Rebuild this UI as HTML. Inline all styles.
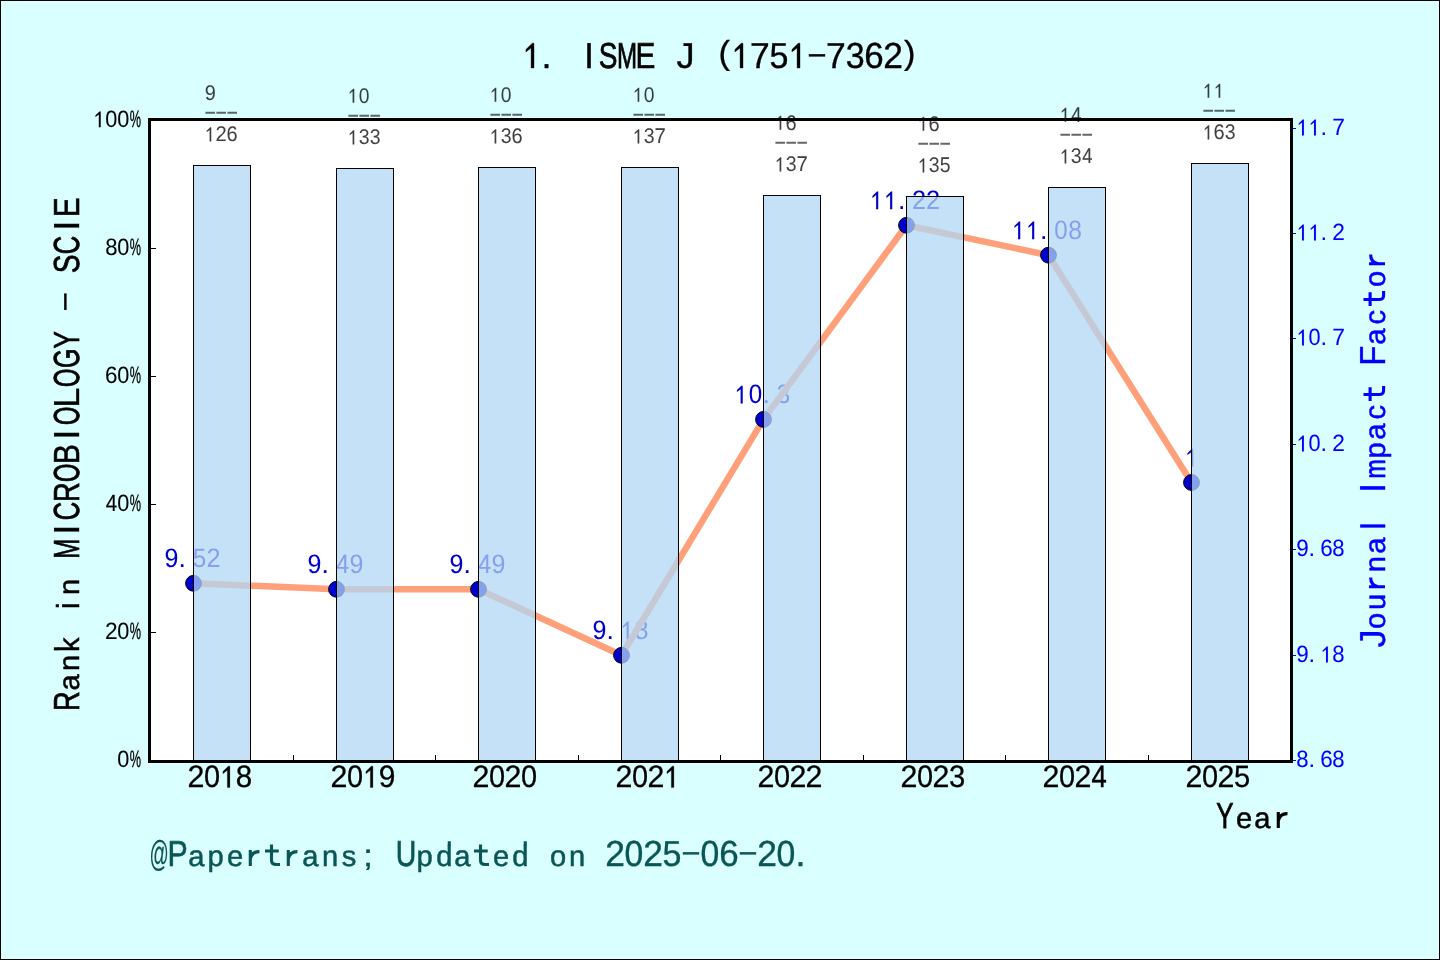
<!DOCTYPE html>
<html lang="en"><head><meta charset="utf-8"><title>1. ISME J (1751-7362)</title>
<style>
html,body{margin:0;padding:0;background:#d9ffff;}
body{width:1440px;height:960px;overflow:hidden;font-family:"Liberation Sans",sans-serif;}
svg{display:block;will-change:transform;}
svg text{font-family:"Liberation Sans",sans-serif;}
</style></head><body>
<svg width="1440" height="960" viewBox="0 0 1440 960" text-rendering="geometricPrecision" font-family="'Liberation Sans', sans-serif">
<rect x="0" y="0" width="1440" height="960" fill="#000"/>
<rect x="1" y="1" width="1438" height="958" fill="#d9ffff"/>
<rect x="149.5" y="119.5" width="1142" height="642" fill="#fff"/>
<g fill="#0000cd" stroke="#0000cd" stroke-width="0.06" font-size="26.61"><text transform="translate(164.57 567.3) scale(0.938 1.000)">9</text><text x="178.58" y="567.3">.</text><text transform="translate(192.76 567.3) scale(0.914 1.000)">5</text><text transform="translate(206.46 567.3) scale(0.951 1.000)">2</text></g>
<g fill="#0000cd" stroke="#0000cd" stroke-width="0.06" font-size="26.61"><text transform="translate(307.57 573.3) scale(0.938 1.000)">9</text><text x="321.58" y="573.3">.</text><text stroke-width="0.22" vector-effect="non-scaling-stroke" transform="translate(336.21 573.3) scale(0.860 1.000)">4</text><text transform="translate(349.57 573.3) scale(0.938 1.000)">9</text></g>
<g fill="#0000cd" stroke="#0000cd" stroke-width="0.06" font-size="26.61"><text transform="translate(449.57 573.3) scale(0.938 1.000)">9</text><text x="463.58" y="573.3">.</text><text stroke-width="0.22" vector-effect="non-scaling-stroke" transform="translate(478.21 573.3) scale(0.860 1.000)">4</text><text transform="translate(491.57 573.3) scale(0.938 1.000)">9</text></g>
<g fill="#0000cd" stroke="#0000cd" stroke-width="0.06" font-size="26.61"><text transform="translate(592.57 639.3) scale(0.938 1.000)">9</text><text x="606.58" y="639.3">.</text><path d="M628.72 621.6 L627.45 621.6 L622.94 626.02 L622.94 627.88 L626.64 625.08 L626.64 639.3 L628.72 639.3Z"/><text transform="translate(634.67 639.3) scale(0.923 1.000)">8</text></g>
<g fill="#0000cd" stroke="#0000cd" stroke-width="0.06" font-size="26.61"><path d="M742.72 385.7 L741.45 385.7 L736.94 390.12 L736.94 391.98 L740.64 389.18 L740.64 403.4 L742.72 403.4Z"/><text transform="translate(748.79 403.4) scale(0.906 1.000)">0</text><text x="762.58" y="403.4">.</text><text transform="translate(776.81 403.4) scale(0.914 1.000)">3</text></g>
<g fill="#0000cd" stroke="#0000cd" stroke-width="0.06" font-size="26.61"><path d="M878.22 191.6 L876.95 191.6 L872.44 196.02 L872.44 197.88 L876.14 195.08 L876.14 209.3 L878.22 209.3Z"/><path d="M892.22 191.6 L890.95 191.6 L886.44 196.02 L886.44 197.88 L890.14 195.08 L890.14 209.3 L892.22 209.3Z"/><text x="898.08" y="209.3">.</text><text transform="translate(911.96 209.3) scale(0.951 1.000)">2</text><text transform="translate(925.96 209.3) scale(0.951 1.000)">2</text></g>
<g fill="#0000cd" stroke="#0000cd" stroke-width="0.06" font-size="26.61"><path d="M1020.22 221.5 L1018.95 221.5 L1014.44 225.92 L1014.44 227.78 L1018.14 224.98 L1018.14 239.2 L1020.22 239.2Z"/><path d="M1034.22 221.5 L1032.94 221.5 L1028.44 225.92 L1028.44 227.78 L1032.14 224.98 L1032.14 239.2 L1034.22 239.2Z"/><text x="1040.08" y="239.2">.</text><text transform="translate(1054.29 239.2) scale(0.906 1.000)">0</text><text transform="translate(1068.17 239.2) scale(0.923 1.000)">8</text></g>
<g fill="#0000cd" stroke="#0000cd" stroke-width="0.06" font-size="26.61"><path d="M1193.22 448.8 L1191.94 448.8 L1187.44 453.22 L1187.44 455.08 L1191.14 452.28 L1191.14 466.5 L1193.22 466.5Z"/></g>
<polyline points="193.5,583.3 336.5,589.3 478.5,589.3 621.5,655.3 763.5,419.4 906.5,225.3 1048.5,255.2 1191.5,482.5" fill="none" stroke="#ffa07a" stroke-width="6.5" stroke-linejoin="round"/>
<circle cx="193.5" cy="583.3" r="7.9" fill="#0000cd" stroke="#000" stroke-width="1"/>
<circle cx="336.5" cy="589.3" r="7.9" fill="#0000cd" stroke="#000" stroke-width="1"/>
<circle cx="478.5" cy="589.3" r="7.9" fill="#0000cd" stroke="#000" stroke-width="1"/>
<circle cx="621.5" cy="655.3" r="7.9" fill="#0000cd" stroke="#000" stroke-width="1"/>
<circle cx="763.5" cy="419.4" r="7.9" fill="#0000cd" stroke="#000" stroke-width="1"/>
<circle cx="906.5" cy="225.3" r="7.9" fill="#0000cd" stroke="#000" stroke-width="1"/>
<circle cx="1048.5" cy="255.2" r="7.9" fill="#0000cd" stroke="#000" stroke-width="1"/>
<circle cx="1191.5" cy="482.5" r="7.9" fill="#0000cd" stroke="#000" stroke-width="1"/>
<rect x="193.5" y="165.5" width="57" height="595" fill="rgb(178,215,244)" fill-opacity="0.75" stroke="#000" stroke-width="1"/>
<rect x="336.5" y="168.5" width="57" height="592" fill="rgb(178,215,244)" fill-opacity="0.75" stroke="#000" stroke-width="1"/>
<rect x="478.5" y="167.5" width="57" height="593" fill="rgb(178,215,244)" fill-opacity="0.75" stroke="#000" stroke-width="1"/>
<rect x="621.5" y="167.5" width="57" height="593" fill="rgb(178,215,244)" fill-opacity="0.75" stroke="#000" stroke-width="1"/>
<rect x="763.5" y="195.5" width="57" height="565" fill="rgb(178,215,244)" fill-opacity="0.75" stroke="#000" stroke-width="1"/>
<rect x="906.5" y="196.5" width="57" height="564" fill="rgb(178,215,244)" fill-opacity="0.75" stroke="#000" stroke-width="1"/>
<rect x="1048.5" y="187.5" width="57" height="573" fill="rgb(178,215,244)" fill-opacity="0.75" stroke="#000" stroke-width="1"/>
<rect x="1191.5" y="163.5" width="57" height="597" fill="rgb(178,215,244)" fill-opacity="0.75" stroke="#000" stroke-width="1"/>
<g fill="#000" stroke="#000" stroke-width="0.04" font-size="21.29" opacity="0.75"><text transform="translate(204.65 99.8) scale(0.938 1.000)">9</text></g>
<g fill="#000" stroke="#000" stroke-width="0.04" font-size="21.29" opacity="0.75"><path d="M211.28 127.25 L210.25 127.25 L206.66 130.78 L206.66 132.27 L209.61 130.02 L209.61 141.4 L211.28 141.4Z"/><text transform="translate(215.57 141.4) scale(0.951 1.000)">2</text><text transform="translate(226.57 141.4) scale(0.939 1.000)">6</text></g>
<path d="M205.4 112.8h9.6M216.4 112.8h9.6M227.4 112.8h9.6" stroke="#000" stroke-opacity="0.6" stroke-width="1.9" fill="none"/>
<g fill="#000" stroke="#000" stroke-width="0.04" font-size="21.29" opacity="0.75"><path d="M354.28 88.65 L353.25 88.65 L349.66 92.18 L349.66 93.67 L352.61 91.42 L352.61 102.8 L354.28 102.8Z"/><text transform="translate(358.84 102.8) scale(0.906 1.000)">0</text></g>
<g fill="#000" stroke="#000" stroke-width="0.04" font-size="21.29" opacity="0.75"><path d="M354.28 130.25 L353.25 130.25 L349.66 133.78 L349.66 135.27 L352.61 133.02 L352.61 144.4 L354.28 144.4Z"/><text transform="translate(358.85 144.4) scale(0.914 1.000)">3</text><text transform="translate(369.85 144.4) scale(0.914 1.000)">3</text></g>
<path d="M348.4 115.8h9.6M359.4 115.8h9.6M370.4 115.8h9.6" stroke="#000" stroke-opacity="0.6" stroke-width="1.9" fill="none"/>
<g fill="#000" stroke="#000" stroke-width="0.04" font-size="21.29" opacity="0.75"><path d="M496.28 87.65 L495.25 87.65 L491.66 91.18 L491.66 92.67 L494.61 90.42 L494.61 101.8 L496.28 101.8Z"/><text transform="translate(500.84 101.8) scale(0.906 1.000)">0</text></g>
<g fill="#000" stroke="#000" stroke-width="0.04" font-size="21.29" opacity="0.75"><path d="M496.28 129.25 L495.25 129.25 L491.66 132.78 L491.66 134.27 L494.61 132.02 L494.61 143.4 L496.28 143.4Z"/><text transform="translate(500.85 143.4) scale(0.914 1.000)">3</text><text transform="translate(511.57 143.4) scale(0.939 1.000)">6</text></g>
<path d="M490.4 114.8h9.6M501.4 114.8h9.6M512.4 114.8h9.6" stroke="#000" stroke-opacity="0.6" stroke-width="1.9" fill="none"/>
<g fill="#000" stroke="#000" stroke-width="0.04" font-size="21.29" opacity="0.75"><path d="M639.28 87.65 L638.26 87.65 L634.66 91.18 L634.66 92.67 L637.61 90.42 L637.61 101.8 L639.28 101.8Z"/><text transform="translate(643.84 101.8) scale(0.906 1.000)">0</text></g>
<g fill="#000" stroke="#000" stroke-width="0.04" font-size="21.29" opacity="0.75"><path d="M639.28 129.25 L638.26 129.25 L634.66 132.78 L634.66 134.27 L637.61 132.02 L637.61 143.4 L639.28 143.4Z"/><text transform="translate(643.85 143.4) scale(0.914 1.000)">3</text><text transform="translate(654.55 143.4) scale(0.953 1.000)">7</text></g>
<path d="M633.4 114.8h9.6M644.4 114.8h9.6M655.4 114.8h9.6" stroke="#000" stroke-opacity="0.6" stroke-width="1.9" fill="none"/>
<g fill="#000" stroke="#000" stroke-width="0.04" font-size="21.29" opacity="0.75"><path d="M781.28 115.65 L780.26 115.65 L776.66 119.18 L776.66 120.67 L779.61 118.42 L779.61 129.8 L781.28 129.8Z"/><text transform="translate(785.57 129.8) scale(0.939 1.000)">6</text></g>
<g fill="#000" stroke="#000" stroke-width="0.04" font-size="21.29" opacity="0.75"><path d="M781.28 157.25 L780.26 157.25 L776.66 160.78 L776.66 162.27 L779.61 160.02 L779.61 171.4 L781.28 171.4Z"/><text transform="translate(785.85 171.4) scale(0.914 1.000)">3</text><text transform="translate(796.55 171.4) scale(0.953 1.000)">7</text></g>
<path d="M775.4 142.8h9.6M786.4 142.8h9.6M797.4 142.8h9.6" stroke="#000" stroke-opacity="0.6" stroke-width="1.9" fill="none"/>
<g fill="#000" stroke="#000" stroke-width="0.04" font-size="21.29" opacity="0.75"><path d="M924.28 116.65 L923.26 116.65 L919.66 120.18 L919.66 121.67 L922.61 119.42 L922.61 130.8 L924.28 130.8Z"/><text transform="translate(928.57 130.8) scale(0.939 1.000)">6</text></g>
<g fill="#000" stroke="#000" stroke-width="0.04" font-size="21.29" opacity="0.75"><path d="M924.28 158.25 L923.26 158.25 L919.66 161.78 L919.66 163.27 L922.61 161.02 L922.61 172.4 L924.28 172.4Z"/><text transform="translate(928.85 172.4) scale(0.914 1.000)">3</text><text transform="translate(939.81 172.4) scale(0.914 1.000)">5</text></g>
<path d="M918.4 143.8h9.6M929.4 143.8h9.6M940.4 143.8h9.6" stroke="#000" stroke-opacity="0.6" stroke-width="1.9" fill="none"/>
<g fill="#000" stroke="#000" stroke-width="0.04" font-size="21.29" opacity="0.75"><path d="M1066.28 107.65 L1065.25 107.65 L1061.66 111.18 L1061.66 112.67 L1064.61 110.42 L1064.61 121.8 L1066.28 121.8Z"/><text stroke-width="0.18" vector-effect="non-scaling-stroke" transform="translate(1071.17 121.8) scale(0.860 1.000)">4</text></g>
<g fill="#000" stroke="#000" stroke-width="0.04" font-size="21.29" opacity="0.75"><path d="M1066.28 149.25 L1065.25 149.25 L1061.66 152.78 L1061.66 154.27 L1064.61 152.02 L1064.61 163.4 L1066.28 163.4Z"/><text transform="translate(1070.85 163.4) scale(0.914 1.000)">3</text><text stroke-width="0.18" vector-effect="non-scaling-stroke" transform="translate(1082.17 163.4) scale(0.860 1.000)">4</text></g>
<path d="M1060.4 134.8h9.6M1071.4 134.8h9.6M1082.4 134.8h9.6" stroke="#000" stroke-opacity="0.6" stroke-width="1.9" fill="none"/>
<g fill="#000" stroke="#000" stroke-width="0.04" font-size="21.29" opacity="0.75"><path d="M1209.28 83.65 L1208.25 83.65 L1204.66 87.18 L1204.66 88.67 L1207.61 86.42 L1207.61 97.8 L1209.28 97.8Z"/><path d="M1220.28 83.65 L1219.25 83.65 L1215.66 87.18 L1215.66 88.67 L1218.61 86.42 L1218.61 97.8 L1220.28 97.8Z"/></g>
<g fill="#000" stroke="#000" stroke-width="0.04" font-size="21.29" opacity="0.75"><path d="M1209.28 125.25 L1208.25 125.25 L1204.66 128.78 L1204.66 130.27 L1207.61 128.02 L1207.61 139.4 L1209.28 139.4Z"/><text transform="translate(1213.57 139.4) scale(0.939 1.000)">6</text><text transform="translate(1224.85 139.4) scale(0.914 1.000)">3</text></g>
<path d="M1203.4 110.8h9.6M1214.4 110.8h9.6M1225.4 110.8h9.6" stroke="#000" stroke-opacity="0.6" stroke-width="1.9" fill="none"/>
<path d="M150.5 632.5H156M150.5 504.5H156M150.5 376.5H156M150.5 248.5H156M293.5 760.5V755M435.5 760.5V755M578.5 760.5V755M720.5 760.5V755M863.5 760.5V755M1005.5 760.5V755M1148.5 760.5V755" stroke="#000" stroke-width="1" fill="none"/>
<path d="M1293 760.5H1296M1293 655.5H1296M1293 549.5H1296M1293 444.5H1296M1293 338.5H1296M1293 233.5H1296M1293 128.5H1296" stroke="#00f" stroke-width="1" fill="none"/>
<rect x="149.5" y="119.5" width="1142" height="642" fill="none" stroke="#000" stroke-width="3"/>
<g fill="#000" stroke="#000" stroke-width="0.05" font-size="23.62"><text transform="translate(117.26 767.3) scale(0.919 1.000)">0</text><text stroke-width="0.35" vector-effect="non-scaling-stroke" transform="translate(129.66 767.3) scale(0.537 1.000)">%</text></g>
<g fill="#000" stroke="#000" stroke-width="0.05" font-size="23.62"><text transform="translate(104.97 639.3) scale(0.964 1.000)">2</text><text transform="translate(117.26 639.3) scale(0.919 1.000)">0</text><text stroke-width="0.35" vector-effect="non-scaling-stroke" transform="translate(129.66 639.3) scale(0.537 1.000)">%</text></g>
<g fill="#000" stroke="#000" stroke-width="0.05" font-size="23.62"><text stroke-width="0.19" vector-effect="non-scaling-stroke" transform="translate(105.64 511.3) scale(0.871 1.000)">4</text><text transform="translate(117.26 511.3) scale(0.919 1.000)">0</text><text stroke-width="0.35" vector-effect="non-scaling-stroke" transform="translate(129.66 511.3) scale(0.537 1.000)">%</text></g>
<g fill="#000" stroke="#000" stroke-width="0.05" font-size="23.62"><text transform="translate(104.97 383.3) scale(0.952 1.000)">6</text><text transform="translate(117.26 383.3) scale(0.919 1.000)">0</text><text stroke-width="0.35" vector-effect="non-scaling-stroke" transform="translate(129.66 383.3) scale(0.537 1.000)">%</text></g>
<g fill="#000" stroke="#000" stroke-width="0.05" font-size="23.62"><text transform="translate(105.15 255.3) scale(0.936 1.000)">8</text><text transform="translate(117.26 255.3) scale(0.919 1.000)">0</text><text stroke-width="0.35" vector-effect="non-scaling-stroke" transform="translate(129.66 255.3) scale(0.537 1.000)">%</text></g>
<g fill="#000" stroke="#000" stroke-width="0.05" font-size="23.62"><path d="M100.7 111.38 L99.55 111.38 L95.5 115.35 L95.5 117.03 L98.83 114.5 L98.83 127.3 L100.7 127.3Z"/><text transform="translate(105.26 127.3) scale(0.919 1.000)">0</text><text transform="translate(117.26 127.3) scale(0.919 1.000)">0</text><text stroke-width="0.35" vector-effect="non-scaling-stroke" transform="translate(129.66 127.3) scale(0.537 1.000)">%</text></g>
<g fill="#00f" stroke="#00f" stroke-width="0.05" font-size="23.62"><text transform="translate(1296.35 767.4) scale(0.936 1.000)">8</text><text x="1308.46" y="767.4">.</text><text transform="translate(1320.17 767.4) scale(0.952 1.000)">6</text><text transform="translate(1332.35 767.4) scale(0.936 1.000)">8</text></g>
<g fill="#00f" stroke="#00f" stroke-width="0.05" font-size="23.62"><text transform="translate(1296.26 662.4) scale(0.951 1.000)">9</text><text x="1308.46" y="662.4">.</text><path d="M1327.9 646.48 L1326.75 646.48 L1322.7 650.45 L1322.7 652.12 L1326.03 649.6 L1326.03 662.4 L1327.9 662.4Z"/><text transform="translate(1332.35 662.4) scale(0.936 1.000)">8</text></g>
<g fill="#00f" stroke="#00f" stroke-width="0.05" font-size="23.62"><text transform="translate(1296.26 556.4) scale(0.951 1.000)">9</text><text x="1308.46" y="556.4">.</text><text transform="translate(1320.17 556.4) scale(0.952 1.000)">6</text><text transform="translate(1332.35 556.4) scale(0.936 1.000)">8</text></g>
<g fill="#00f" stroke="#00f" stroke-width="0.05" font-size="23.62"><path d="M1303.9 435.47 L1302.75 435.47 L1298.7 439.45 L1298.7 441.12 L1302.03 438.6 L1302.03 451.4 L1303.9 451.4Z"/><text transform="translate(1308.46 451.4) scale(0.919 1.000)">0</text><text x="1320.46" y="451.4">.</text><text transform="translate(1332.17 451.4) scale(0.964 1.000)">2</text></g>
<g fill="#00f" stroke="#00f" stroke-width="0.05" font-size="23.62"><path d="M1303.9 329.47 L1302.75 329.47 L1298.7 333.45 L1298.7 335.12 L1302.03 332.6 L1302.03 345.4 L1303.9 345.4Z"/><text transform="translate(1308.46 345.4) scale(0.919 1.000)">0</text><text x="1320.46" y="345.4">.</text><text transform="translate(1332.14 345.4) scale(0.966 1.000)">7</text></g>
<g fill="#00f" stroke="#00f" stroke-width="0.05" font-size="23.62"><path d="M1303.9 224.47 L1302.75 224.47 L1298.7 228.45 L1298.7 230.12 L1302.03 227.6 L1302.03 240.4 L1303.9 240.4Z"/><path d="M1315.9 224.47 L1314.75 224.47 L1310.7 228.45 L1310.7 230.12 L1314.03 227.6 L1314.03 240.4 L1315.9 240.4Z"/><text x="1320.46" y="240.4">.</text><text transform="translate(1332.17 240.4) scale(0.964 1.000)">2</text></g>
<g fill="#00f" stroke="#00f" stroke-width="0.05" font-size="23.62"><path d="M1303.9 119.48 L1302.75 119.48 L1298.7 123.45 L1298.7 125.12 L1302.03 122.6 L1302.03 135.4 L1303.9 135.4Z"/><path d="M1315.9 119.48 L1314.75 119.48 L1310.7 123.45 L1310.7 125.12 L1314.03 122.6 L1314.03 135.4 L1315.9 135.4Z"/><text x="1320.46" y="135.4">.</text><text transform="translate(1332.14 135.4) scale(0.966 1.000)">7</text></g>
<g fill="#000" stroke="#000" stroke-width="0.3" font-size="31"><text transform="translate(187.56 787.4) scale(0.980 1.000)">2</text><text transform="translate(203.95 787.4) scale(0.933 1.000)">0</text><path d="M229.87 766.17 L228.33 766.17 L222.93 771.47 L222.93 773.7 L227.37 770.34 L227.37 787.4 L229.87 787.4Z"/><text transform="translate(235.8 787.4) scale(0.951 1.000)">8</text></g>
<g fill="#000" stroke="#000" stroke-width="0.3" font-size="31"><text transform="translate(330.56 787.4) scale(0.980 1.000)">2</text><text transform="translate(346.95 787.4) scale(0.933 1.000)">0</text><path d="M372.87 766.17 L371.33 766.17 L365.93 771.47 L365.93 773.7 L370.37 770.34 L370.37 787.4 L372.87 787.4Z"/><text transform="translate(378.68 787.4) scale(0.966 1.000)">9</text></g>
<g fill="#000" stroke="#000" stroke-width="0.3" font-size="31"><text transform="translate(472.56 787.4) scale(0.980 1.000)">2</text><text transform="translate(488.95 787.4) scale(0.933 1.000)">0</text><text transform="translate(504.56 787.4) scale(0.980 1.000)">2</text><text transform="translate(520.95 787.4) scale(0.933 1.000)">0</text></g>
<g fill="#000" stroke="#000" stroke-width="0.3" font-size="31"><text transform="translate(615.56 787.4) scale(0.980 1.000)">2</text><text transform="translate(631.95 787.4) scale(0.933 1.000)">0</text><text transform="translate(647.56 787.4) scale(0.980 1.000)">2</text><path d="M673.87 766.17 L672.33 766.17 L666.93 771.47 L666.93 773.7 L671.37 770.34 L671.37 787.4 L673.87 787.4Z"/></g>
<g fill="#000" stroke="#000" stroke-width="0.3" font-size="31"><text transform="translate(757.56 787.4) scale(0.980 1.000)">2</text><text transform="translate(773.95 787.4) scale(0.933 1.000)">0</text><text transform="translate(789.56 787.4) scale(0.980 1.000)">2</text><text transform="translate(805.56 787.4) scale(0.980 1.000)">2</text></g>
<g fill="#000" stroke="#000" stroke-width="0.3" font-size="31"><text transform="translate(900.56 787.4) scale(0.980 1.000)">2</text><text transform="translate(916.95 787.4) scale(0.933 1.000)">0</text><text transform="translate(932.56 787.4) scale(0.980 1.000)">2</text><text transform="translate(948.97 787.4) scale(0.941 1.000)">3</text></g>
<g fill="#000" stroke="#000" stroke-width="0.3" font-size="31"><text transform="translate(1042.56 787.4) scale(0.980 1.000)">2</text><text transform="translate(1058.95 787.4) scale(0.933 1.000)">0</text><text transform="translate(1074.56 787.4) scale(0.980 1.000)">2</text><text stroke-width="0.46" vector-effect="non-scaling-stroke" transform="translate(1091.45 787.4) scale(0.886 1.000)">4</text></g>
<g fill="#000" stroke="#000" stroke-width="0.3" font-size="31"><text transform="translate(1185.56 787.4) scale(0.980 1.000)">2</text><text transform="translate(1201.95 787.4) scale(0.933 1.000)">0</text><text transform="translate(1217.56 787.4) scale(0.980 1.000)">2</text><text transform="translate(1233.92 787.4) scale(0.941 1.000)">5</text></g>
<g fill="#000" stroke="#000" stroke-width="0.35" font-size="36.17"><path d="M534.01 43.23 L532.22 43.23 L525.92 49.41 L525.92 52.02 L531.09 48.09 L531.09 68 L534.01 68Z"/><text x="541.61" y="68">.</text><text x="583.98" y="68">I</text><text stroke-width="0.72" vector-effect="non-scaling-stroke" transform="translate(598.66 68) scale(0.775 1.000)">S</text><text stroke-width="0.78" vector-effect="non-scaling-stroke" transform="translate(616.95 68) scale(0.667 1.000)">M</text><text stroke-width="0.64" vector-effect="non-scaling-stroke" transform="translate(635.49 68) scale(0.823 1.000)">E</text><text x="676.59" y="68">J</text><text transform="translate(718.61 64.31) scale(0.953 0.920)">(</text><path d="M743.01 43.23 L741.22 43.23 L734.92 49.41 L734.92 52.02 L740.09 48.09 L740.09 68 L743.01 68Z"/><text transform="translate(750.11 68) scale(0.982 1.000)">7</text><text transform="translate(769.57 68) scale(0.941 1.000)">5</text><path d="M800.01 43.23 L798.22 43.23 L791.92 49.41 L791.92 52.02 L797.09 48.09 L797.09 68 L800.01 68Z"/><text transform="translate(806.26 62.86) scale(1.784 0.800)">-</text><text transform="translate(826.11 68) scale(0.982 1.000)">7</text><text transform="translate(845.63 68) scale(0.941 1.000)">3</text><text transform="translate(864.15 68) scale(0.967 1.000)">6</text><text transform="translate(883.15 68) scale(0.980 1.000)">2</text><text transform="translate(903.91 64.31) scale(0.953 0.920)">)</text></g>
<g fill="#000" stroke="#000" stroke-width="0.35" font-size="36.17"><text stroke-width="0.78" vector-effect="non-scaling-stroke" transform="translate(1216.36 827.9) scale(0.716 1.000)">Y</text><text font-size="29.11" stroke-width="0.49" x="1235.93" y="827.9">e</text><text font-size="29.11" stroke-width="0.49" x="1254.29" y="827.9">a</text><path d="M1278.29 827.9 L1278.29 811.88 M1278.29 821.29 C1279.31 815.46 1282.22 813.43 1287.47 813.59" fill="none" stroke-width="3.11"/></g>
<g fill="#0a5555" stroke="#0a5555" stroke-width="0.35" font-size="36.17"><text stroke-width="0.16" vector-effect="non-scaling-stroke" transform="translate(149.44 865.9) scale(0.525 1.000)">@</text><text stroke-width="0.62" vector-effect="non-scaling-stroke" transform="translate(167.44 865.9) scale(0.838 1.000)">P</text><text font-size="29.11" stroke-width="0.49" x="188.29" y="865.9">a</text><text font-size="29.11" stroke-width="0.49" x="207.58" y="865.9">p</text><text font-size="29.11" stroke-width="0.49" x="226.93" y="865.9">e</text><path d="M250.29 865.9 L250.29 849.88 M250.29 859.29 C251.31 853.46 254.22 851.43 259.47 851.59" fill="none" stroke-width="3.11"/><path d="M271.51 844.39 L271.51 860.46 C271.51 863.96 273.61 864.5 276.33 864.5 L279.99 864.5 M265.02 851.01 L278.74 851.01" fill="none" stroke-width="3.11"/><path d="M288.29 865.9 L288.29 849.88 M288.29 859.29 C289.31 853.46 292.22 851.43 297.47 851.59" fill="none" stroke-width="3.11"/><text font-size="29.11" stroke-width="0.49" x="302.29" y="865.9">a</text><text font-size="29.11" stroke-width="0.49" x="321.88" y="865.9">n</text><text font-size="29.11" stroke-width="0.49" x="341.84" y="865.9">s</text><text transform="translate(362.98 865.9) scale(1.000 0.850)">;</text><text stroke-width="0.7" vector-effect="non-scaling-stroke" transform="translate(395.74 865.9) scale(0.786 1.000)">U</text><text font-size="29.11" stroke-width="0.49" x="416.58" y="865.9">p</text><text font-size="29.11" stroke-width="0.49" x="436.23" y="865.9">d</text><rect x="447.74" y="841.24" width="3.05" height="4.57" stroke="none"/><text font-size="29.11" stroke-width="0.49" x="454.29" y="865.9">a</text><path d="M480.51 844.39 L480.51 860.46 C480.51 863.96 482.61 864.5 485.33 864.5 L488.99 864.5 M474.02 851.01 L487.74 851.01" fill="none" stroke-width="3.11"/><text font-size="29.11" stroke-width="0.49" x="492.93" y="865.9">e</text><text font-size="29.11" stroke-width="0.49" x="512.23" y="865.9">d</text><rect x="523.74" y="841.24" width="3.05" height="4.57" stroke="none"/><text font-size="29.11" stroke-width="0.49" x="549.9" y="865.9">o</text><text font-size="29.11" stroke-width="0.49" x="568.88" y="865.9">n</text><text transform="translate(605.15 865.9) scale(0.980 1.000)">2</text><text transform="translate(624.61 865.9) scale(0.933 1.000)">0</text><text transform="translate(643.15 865.9) scale(0.980 1.000)">2</text><text transform="translate(662.57 865.9) scale(0.941 1.000)">5</text><text transform="translate(680.26 860.76) scale(1.784 0.800)">-</text><text transform="translate(700.61 865.9) scale(0.933 1.000)">0</text><text transform="translate(719.15 865.9) scale(0.967 1.000)">6</text><text transform="translate(737.26 860.76) scale(1.784 0.800)">-</text><text transform="translate(757.15 865.9) scale(0.980 1.000)">2</text><text transform="translate(776.61 865.9) scale(0.933 1.000)">0</text><text x="795.61" y="865.9">.</text></g>
<g transform="translate(78.5 710.3) rotate(-90)"><g fill="#000" stroke="#000" stroke-width="0.35" font-size="36.17"><text stroke-width="0.76" vector-effect="non-scaling-stroke" transform="translate(-0.8 0) scale(0.752 1.000)">R</text><text font-size="29.11" stroke-width="0.49" x="19.79" y="0">a</text><text font-size="29.11" stroke-width="0.49" x="39.38" y="0">n</text><text font-size="29.11" stroke-width="0.49" x="58.22" y="0">k</text><rect x="59.94" y="-24.66" width="3.05" height="4.57" stroke="none"/><text font-size="29.11" stroke-width="0.49" transform="translate(101.27 0) scale(1.000 1.090)">i</text><text font-size="29.11" stroke-width="0.49" x="115.38" y="0">n</text><text stroke-width="0.78" vector-effect="non-scaling-stroke" transform="translate(151.45 0) scale(0.667 1.000)">M</text><text x="175.48" y="0">I</text><text stroke-width="0.78" vector-effect="non-scaling-stroke" transform="translate(190.14 0) scale(0.705 1.000)">C</text><text stroke-width="0.76" vector-effect="non-scaling-stroke" transform="translate(208.2 0) scale(0.752 1.000)">R</text><text stroke-width="0.78" vector-effect="non-scaling-stroke" transform="translate(228.31 0) scale(0.654 1.000)">O</text><text stroke-width="0.62" vector-effect="non-scaling-stroke" transform="translate(245.94 0) scale(0.838 1.000)">B</text><text x="270.48" y="0">I</text><text stroke-width="0.78" vector-effect="non-scaling-stroke" transform="translate(285.31 0) scale(0.654 1.000)">O</text><text x="302.56" y="0">L</text><text stroke-width="0.78" vector-effect="non-scaling-stroke" transform="translate(323.31 0) scale(0.654 1.000)">O</text><text stroke-width="0.78" vector-effect="non-scaling-stroke" transform="translate(342.19 0) scale(0.684 1.000)">G</text><text stroke-width="0.78" vector-effect="non-scaling-stroke" transform="translate(361.86 0) scale(0.716 1.000)">Y</text><text transform="translate(397.76 -5.14) scale(1.784 0.800)">-</text><text stroke-width="0.72" vector-effect="non-scaling-stroke" transform="translate(437.16 0) scale(0.775 1.000)">S</text><text stroke-width="0.78" vector-effect="non-scaling-stroke" transform="translate(456.14 0) scale(0.705 1.000)">C</text><text x="479.48" y="0">I</text><text stroke-width="0.64" vector-effect="non-scaling-stroke" transform="translate(492.99 0) scale(0.823 1.000)">E</text></g></g>
<g transform="translate(1385 649.5) rotate(-90)"><g fill="#00f" stroke="#00f" stroke-width="0.35" font-size="36.17"><text x="2.09" y="0">J</text><text font-size="29.11" stroke-width="0.49" x="20.4" y="0">o</text><text font-size="29.11" stroke-width="0.49" x="39.43" y="0">u</text><path d="M62.79 0 L62.79 -16.02 M62.79 -6.61 C63.81 -12.44 66.72 -14.47 71.97 -14.31" fill="none" stroke-width="3.11"/><text font-size="29.11" stroke-width="0.49" x="77.38" y="0">n</text><text font-size="29.11" stroke-width="0.49" x="95.79" y="0">a</text><text font-size="29.11" stroke-width="0.49" transform="translate(120.26 0) scale(1.000 1.168)">l</text><text x="156.48" y="0">I</text><text font-size="29.11" stroke-width="0.78" vector-effect="non-scaling-stroke" transform="translate(170.9 0) scale(0.791 1.000)">m</text><text font-size="29.11" stroke-width="0.49" x="191.08" y="0">p</text><text font-size="29.11" stroke-width="0.49" x="209.79" y="0">a</text><text font-size="29.11" stroke-width="0.49" x="229.99" y="0">c</text><path d="M255.01 -21.51 L255.01 -5.44 C255.01 -1.94 257.11 -1.4 259.83 -1.4 L263.49 -1.4 M248.52 -14.89 L262.24 -14.89" fill="none" stroke-width="3.11"/><text transform="translate(283.72 0) scale(0.913 1.000)">F</text><text font-size="29.11" stroke-width="0.49" x="304.79" y="0">a</text><text font-size="29.11" stroke-width="0.49" x="324.99" y="0">c</text><path d="M350.01 -21.51 L350.01 -5.44 C350.01 -1.94 352.11 -1.4 354.83 -1.4 L358.49 -1.4 M343.52 -14.89 L357.24 -14.89" fill="none" stroke-width="3.11"/><text font-size="29.11" stroke-width="0.49" x="362.4" y="0">o</text><path d="M385.79 0 L385.79 -16.02 M385.79 -6.61 C386.81 -12.44 389.72 -14.47 394.97 -14.31" fill="none" stroke-width="3.11"/></g></g>
</svg>
</body></html>
